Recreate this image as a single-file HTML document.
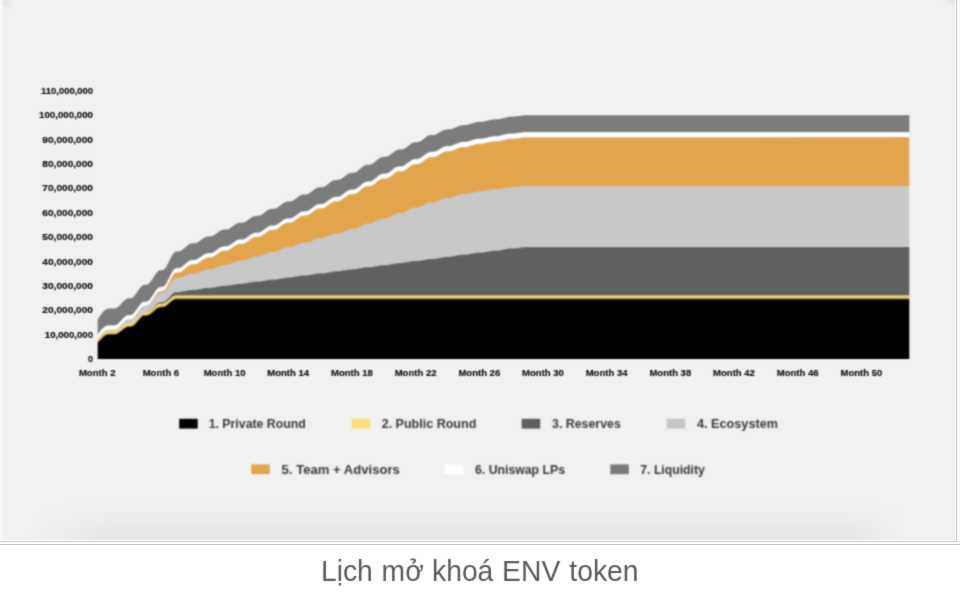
<!DOCTYPE html>
<html><head><meta charset="utf-8">
<style>
html,body{margin:0;padding:0;background:#fff;}
body{width:960px;height:597px;overflow:hidden;position:relative;font-family:"Liberation Sans",sans-serif;}
#panel{position:absolute;left:1.5px;top:0;width:953.6px;height:539.5px;background:#f1f1f1;overflow:hidden;}
#shade{position:absolute;left:0;top:500px;width:954px;height:40px;
 background:linear-gradient(to bottom, rgba(0,0,0,0) 0%, rgba(0,0,0,0.015) 40%, rgba(0,0,0,0.04) 80%, rgba(0,0,0,0.048) 100%);
 -webkit-mask-image:linear-gradient(to right, transparent 25px, #000 110px, #000 845px, transparent 905px);
 mask-image:linear-gradient(to right, transparent 25px, #000 110px, #000 845px, transparent 905px);}
#c1{position:absolute;left:0;top:0;width:16px;height:14px;background:radial-gradient(ellipse 8px 7px at 4px 3px, rgba(0,0,0,0.05), rgba(0,0,0,0));}
#c2{position:absolute;left:936px;top:0;width:18px;height:14px;background:radial-gradient(ellipse 9px 7px at 14px 1px, rgba(0,0,0,0.05), rgba(0,0,0,0));}
#lstrip{position:absolute;left:0;top:0;width:1.5px;height:540px;background:#f8f8f8;}
#rline{position:absolute;left:956.2px;top:0;width:1.1px;height:541.8px;background:#c6c6c6;}
#bline1{position:absolute;left:0;top:540.7px;width:957.3px;height:1.1px;background:#c9c9c9;}
#bline2{position:absolute;left:0;top:543.8px;width:960px;height:1.2px;background:#c6c6c6;}
#cap span{position:absolute;top:0;white-space:nowrap;}
#cap{position:absolute;left:0;width:960px;height:40px;top:555px;filter:url(#bc);font-size:28.3px;color:#5b5b5b;line-height:32px;
 transform:scaleY(1.05);transform-origin:0 27px;}
svg{position:absolute;left:0;top:0;}
.ax{font-family:"Liberation Sans",sans-serif;font-weight:bold;font-size:9.4px;fill:#1a1a1a;stroke:#1a1a1a;stroke-width:0.22px;}
.lg{font-family:"Liberation Sans",sans-serif;font-weight:bold;font-size:12.8px;fill:#383838;}
</style></head><body>
<div id="panel"><div id="shade"></div><div id="c1"></div><div id="c2"></div></div><div id="lstrip"></div>
<div id="rline"></div><div id="bline1"></div><div id="bline2"></div>
<svg width="960" height="540" viewBox="0 0 960 540">
<defs>
<filter id="bl" x="-5%" y="-5%" width="110%" height="110%"><feConvolveMatrix order="5" kernelMatrix="0.00023 0.00332 0.00809 0.00332 0.00023 0.00332 0.04785 0.11640 0.04785 0.00332 0.00809 0.11640 0.28313 0.11640 0.00809 0.00332 0.04785 0.11640 0.04785 0.00332 0.00023 0.00332 0.00809 0.00332 0.00023" edgeMode="none" preserveAlpha="false"/></filter>
<filter id="bg" x="-5%" y="-5%" width="110%" height="110%"><feConvolveMatrix order="5" kernelMatrix="0.00048 0.00501 0.01095 0.00501 0.00048 0.00501 0.05222 0.11405 0.05222 0.00501 0.01095 0.11405 0.24912 0.11405 0.01095 0.00501 0.05222 0.11405 0.05222 0.00501 0.00048 0.00501 0.01095 0.00501 0.00048" edgeMode="none" preserveAlpha="false"/></filter>
<filter id="bc" x="-5%" y="-5%" width="110%" height="110%"><feConvolveMatrix order="5" kernelMatrix="0.00000 0.00003 0.00021 0.00003 0.00000 0.00003 0.01133 0.08373 0.01133 0.00003 0.00021 0.08373 0.61869 0.08373 0.00021 0.00003 0.01133 0.08373 0.01133 0.00003 0.00000 0.00003 0.00021 0.00003 0.00000" edgeMode="none" preserveAlpha="false"/></filter>
<filter id="bt" x="-5%" y="-5%" width="110%" height="110%"><feConvolveMatrix order="5" kernelMatrix="0.00003 0.00101 0.00331 0.00101 0.00003 0.00101 0.03529 0.11525 0.03529 0.00101 0.00331 0.11525 0.37636 0.11525 0.00331 0.00101 0.03529 0.11525 0.03529 0.00101 0.00003 0.00101 0.00331 0.00101 0.00003" edgeMode="none" preserveAlpha="false"/></filter>
</defs>
<g filter="url(#bl)">
<path d="M97.7 319.50 100.2 315.70 101.7 313.62 102.7 312.37 103.7 311.26 104.7 310.32 105.7 309.56 106.7 308.99 107.7 308.64 108.7 308.50 114.7 308.48 115.2 308.42 116.2 308.11 117.2 307.57 118.2 306.83 119.2 305.93 123.7 301.10 124.7 300.16 125.7 299.38 126.7 298.79 127.7 298.42 128.2 298.32 130.7 298.26 131.2 298.16 131.7 297.99 132.2 297.73 132.7 297.40 133.2 297.00 133.7 296.53 134.7 295.42 135.7 294.13 139.2 289.07 140.2 287.76 141.2 286.63 141.7 286.16 142.2 285.74 142.7 285.40 143.2 285.12 143.7 284.93 144.2 284.81 146.7 284.74 147.2 284.62 147.7 284.42 148.2 284.13 148.7 283.76 149.2 283.31 149.7 282.80 150.7 281.59 151.7 280.18 155.2 274.73 156.2 273.33 157.2 272.13 157.7 271.63 158.2 271.19 158.7 270.83 159.2 270.55 159.7 270.36 160.2 270.25 162.2 270.22 162.7 270.16 163.2 269.98 163.7 269.70 164.2 269.31 164.7 268.82 165.2 268.23 165.7 267.55 166.2 266.80 166.7 265.97 167.7 264.13 170.7 258.07 171.7 256.19 172.2 255.32 172.7 254.52 173.2 253.80 173.7 253.16 174.2 252.61 174.7 252.17 175.2 251.82 175.7 251.59 176.2 251.46 178.7 251.40 179.7 251.19 180.7 250.79 181.7 250.23 183.2 249.14 187.2 245.66 188.7 244.55 189.7 243.97 190.7 243.55 191.7 243.31 194.7 243.22 195.7 243.03 196.7 242.69 198.2 241.92 203.7 238.04 205.2 237.20 206.2 236.79 207.2 236.52 208.2 236.42 210.2 236.41 211.2 236.29 212.2 236.00 213.2 235.58 214.7 234.71 219.2 231.47 220.7 230.57 221.7 230.10 222.7 229.77 223.7 229.60 226.2 229.56 227.2 229.43 228.2 229.13 229.2 228.69 230.7 227.82 235.2 224.58 236.7 223.68 237.7 223.22 238.7 222.91 239.7 222.75 242.2 222.71 243.2 222.56 244.2 222.26 245.2 221.81 246.7 220.92 251.2 217.68 252.7 216.80 253.7 216.35 254.7 216.05 255.7 215.90 258.2 215.86 259.2 215.69 260.2 215.36 261.2 214.88 262.7 213.94 267.2 210.56 268.7 209.65 269.7 209.20 270.7 208.89 271.7 208.75 274.2 208.71 275.2 208.53 276.2 208.18 277.2 207.69 278.7 206.74 283.2 203.36 284.7 202.46 285.7 202.02 286.7 201.73 287.7 201.60 290.2 201.56 291.2 201.36 292.2 201.01 293.2 200.51 294.7 199.54 298.7 196.51 300.2 195.55 301.2 195.05 302.2 194.69 303.2 194.49 306.2 194.41 307.2 194.20 308.2 193.83 309.2 193.32 310.7 192.34 314.7 189.31 316.2 188.36 317.2 187.87 318.2 187.52 319.2 187.34 321.7 187.30 322.7 187.16 323.7 186.85 324.7 186.39 326.2 185.46 330.7 182.02 332.2 181.06 333.2 180.57 334.2 180.24 335.2 180.06 337.7 180.03 338.7 179.87 339.7 179.55 340.7 179.07 342.2 178.13 346.7 174.69 348.2 173.75 349.2 173.27 350.2 172.95 351.2 172.79 353.7 172.75 354.7 172.56 355.7 172.19 356.7 171.65 358.2 170.60 362.7 166.79 363.7 166.07 364.7 165.48 365.7 165.05 366.7 164.80 369.7 164.70 370.7 164.50 371.7 164.12 372.7 163.59 374.2 162.55 378.7 158.85 379.7 158.16 380.7 157.60 381.7 157.19 382.7 156.96 385.7 156.86 386.7 156.67 387.7 156.30 388.7 155.79 390.2 154.81 394.2 151.70 395.7 150.71 396.7 150.20 397.7 149.83 398.7 149.62 401.7 149.53 402.7 149.32 403.7 148.95 404.7 148.43 406.2 147.43 410.2 144.32 411.7 143.34 412.7 142.84 413.7 142.48 414.7 142.29 417.2 142.25 418.2 142.11 419.2 141.81 420.2 141.36 421.7 140.44 426.2 137.04 427.7 136.09 428.7 135.61 429.7 135.27 430.7 135.10 433.2 135.06 434.2 134.94 435.2 134.69 436.7 134.10 442.7 130.62 444.2 129.94 445.2 129.63 446.2 129.43 449.7 129.32 451.2 129.07 453.2 128.44 458.7 126.05 460.7 125.43 462.2 125.19 465.7 125.11 467.7 124.81 475.2 122.44 477.2 122.04 482.2 121.84 485.2 121.31 491.2 119.74 493.7 119.38 498.2 119.25 501.2 118.71 507.2 117.14 509.7 116.79 515.2 116.62 524.7 115.37 909.3 115.30 L909.3 133.80 524.7 133.87 515.2 135.12 509.7 135.29 507.2 135.64 501.2 137.21 498.2 137.75 493.7 137.88 491.2 138.24 485.2 139.81 482.2 140.34 477.2 140.54 475.2 140.94 467.7 143.31 465.7 143.61 462.2 143.69 460.7 143.93 458.7 144.55 453.2 146.94 451.2 147.57 449.7 147.82 446.2 147.93 445.2 148.13 444.2 148.44 442.7 149.12 436.7 152.60 435.2 153.19 434.2 153.44 433.2 153.56 430.7 153.60 429.7 153.77 428.7 154.11 427.7 154.59 426.2 155.54 421.7 158.94 420.2 159.86 419.2 160.31 418.2 160.61 417.2 160.75 414.7 160.79 413.7 160.98 412.7 161.34 411.7 161.84 410.2 162.82 406.2 165.93 404.7 166.93 403.7 167.45 402.7 167.82 401.7 168.03 398.7 168.12 397.7 168.33 396.7 168.70 395.7 169.21 394.2 170.20 390.2 173.31 388.7 174.29 387.7 174.80 386.7 175.17 385.7 175.36 382.7 175.46 381.7 175.69 380.7 176.10 379.7 176.66 378.7 177.35 374.2 181.05 372.7 182.09 371.7 182.62 370.7 183.00 369.7 183.20 366.7 183.30 365.7 183.55 364.7 183.98 363.7 184.57 362.7 185.29 358.2 189.10 356.7 190.15 355.7 190.69 354.7 191.06 353.7 191.25 351.2 191.29 350.2 191.45 349.2 191.77 348.2 192.25 346.7 193.19 342.2 196.63 340.7 197.57 339.7 198.05 338.7 198.37 337.7 198.53 335.2 198.56 334.2 198.74 333.2 199.07 332.2 199.56 330.7 200.52 326.2 203.96 324.7 204.89 323.7 205.35 322.7 205.66 321.7 205.80 319.2 205.84 318.2 206.02 317.2 206.37 316.2 206.86 314.7 207.81 310.7 210.84 309.2 211.82 308.2 212.33 307.2 212.70 306.2 212.91 303.2 212.99 302.2 213.19 301.2 213.55 300.2 214.05 298.7 215.01 294.7 218.04 293.2 219.01 292.2 219.51 291.2 219.86 290.2 220.06 287.7 220.10 286.7 220.23 285.7 220.52 284.7 220.96 283.2 221.86 278.7 225.24 277.2 226.19 276.2 226.68 275.2 227.03 274.2 227.21 271.7 227.25 270.7 227.39 269.7 227.70 268.7 228.15 267.2 229.06 262.7 232.44 261.2 233.38 260.2 233.86 259.2 234.19 258.2 234.36 255.7 234.40 254.7 234.55 253.7 234.85 252.7 235.30 251.2 236.18 246.7 239.42 245.2 240.31 244.2 240.76 243.2 241.06 242.2 241.21 239.7 241.25 238.7 241.41 237.7 241.72 236.7 242.18 235.2 243.08 230.7 246.32 229.2 247.19 228.2 247.63 227.2 247.93 226.2 248.06 223.7 248.10 222.7 248.27 221.7 248.60 220.7 249.07 219.2 249.97 214.7 253.21 213.2 254.08 212.2 254.50 211.2 254.79 210.2 254.91 208.2 254.92 207.2 255.02 206.2 255.29 205.2 255.70 203.7 256.54 198.2 260.42 196.7 261.19 195.7 261.53 194.7 261.72 191.7 261.81 190.7 262.05 189.7 262.47 188.7 263.05 187.2 264.16 183.2 267.64 181.7 268.73 180.7 269.29 179.7 269.69 178.7 269.90 176.2 269.96 175.7 270.09 175.2 270.32 174.7 270.67 174.2 271.11 173.7 271.66 173.2 272.30 172.7 273.02 172.2 273.82 171.7 274.69 170.7 276.57 167.7 282.63 166.7 284.47 166.2 285.30 165.7 286.05 165.2 286.73 164.7 287.32 164.2 287.81 163.7 288.20 163.2 288.48 162.7 288.66 162.2 288.72 160.2 288.75 159.7 288.86 159.2 289.05 158.7 289.33 158.2 289.69 157.7 290.13 157.2 290.63 156.2 291.83 155.2 293.23 151.7 298.68 150.7 300.09 149.7 301.30 149.2 301.81 148.7 302.26 148.2 302.63 147.7 302.92 147.2 303.12 146.7 303.24 144.2 303.31 143.7 303.43 143.2 303.62 142.7 303.90 142.2 304.24 141.7 304.66 141.2 305.13 140.2 306.26 139.2 307.57 135.7 312.63 134.7 313.92 133.7 315.03 133.2 315.50 132.7 315.90 132.2 316.23 131.7 316.49 131.2 316.66 130.7 316.76 128.2 316.82 127.7 316.92 126.7 317.29 125.7 317.88 124.7 318.66 123.7 319.60 119.2 324.43 118.2 325.33 117.2 326.07 116.2 326.61 115.2 326.92 114.7 326.98 108.2 327.03 107.2 327.24 106.2 327.62 105.2 328.17 104.2 328.88 103.2 329.73 102.2 330.70 100.7 332.36 97.7 336.10 Z" fill="#7b7b7b"/>
<path d="M97.7 334.50 100.7 330.76 102.2 329.10 103.2 328.13 104.2 327.28 105.2 326.57 106.2 326.02 107.2 325.64 108.2 325.43 114.7 325.38 115.2 325.32 116.2 325.01 117.2 324.47 118.2 323.73 119.2 322.83 123.7 318.00 124.7 317.06 125.7 316.28 126.7 315.69 127.7 315.32 128.2 315.22 130.7 315.16 131.2 315.06 131.7 314.89 132.2 314.63 132.7 314.30 133.2 313.90 133.7 313.43 134.7 312.32 135.7 311.03 139.2 305.97 140.2 304.66 141.2 303.53 141.7 303.06 142.2 302.64 142.7 302.30 143.2 302.02 143.7 301.83 144.2 301.71 146.7 301.64 147.2 301.52 147.7 301.32 148.2 301.03 148.7 300.66 149.2 300.21 149.7 299.70 150.7 298.49 151.7 297.08 155.2 291.63 156.2 290.23 157.2 289.03 157.7 288.53 158.2 288.09 158.7 287.73 159.2 287.45 159.7 287.26 160.2 287.15 162.2 287.12 162.7 287.06 163.2 286.88 163.7 286.60 164.2 286.21 164.7 285.72 165.2 285.13 165.7 284.45 166.2 283.70 166.7 282.87 167.7 281.03 170.7 274.97 171.7 273.09 172.2 272.22 172.7 271.42 173.2 270.70 173.7 270.06 174.2 269.51 174.7 269.07 175.2 268.72 175.7 268.49 176.2 268.36 178.7 268.30 179.7 268.09 180.7 267.69 181.7 267.13 183.2 266.04 187.2 262.56 188.7 261.45 189.7 260.87 190.7 260.45 191.7 260.21 194.7 260.12 195.7 259.93 196.7 259.59 198.2 258.82 203.7 254.94 205.2 254.10 206.2 253.69 207.2 253.42 208.2 253.32 210.2 253.31 211.2 253.19 212.2 252.90 213.2 252.48 214.7 251.61 219.2 248.37 220.7 247.47 221.7 247.00 222.7 246.67 223.7 246.50 226.2 246.46 227.2 246.33 228.2 246.03 229.2 245.59 230.7 244.72 235.2 241.48 236.7 240.58 237.7 240.12 238.7 239.81 239.7 239.65 242.2 239.61 243.2 239.46 244.2 239.16 245.2 238.71 246.7 237.82 251.2 234.58 252.7 233.70 253.7 233.25 254.7 232.95 255.7 232.80 258.2 232.76 259.2 232.59 260.2 232.26 261.2 231.78 262.7 230.84 267.2 227.46 268.7 226.55 269.7 226.10 270.7 225.79 271.7 225.65 274.2 225.61 275.2 225.43 276.2 225.08 277.2 224.59 278.7 223.64 283.2 220.26 284.7 219.36 285.7 218.92 286.7 218.63 287.7 218.50 290.2 218.46 291.2 218.26 292.2 217.91 293.2 217.41 294.7 216.44 298.7 213.41 300.2 212.45 301.2 211.95 302.2 211.59 303.2 211.39 306.2 211.31 307.2 211.10 308.2 210.73 309.2 210.22 310.7 209.24 314.7 206.21 316.2 205.26 317.2 204.77 318.2 204.42 319.2 204.24 321.7 204.20 322.7 204.06 323.7 203.75 324.7 203.29 326.2 202.36 330.7 198.92 332.2 197.96 333.2 197.47 334.2 197.14 335.2 196.96 337.7 196.93 338.7 196.77 339.7 196.45 340.7 195.97 342.2 195.03 346.7 191.59 348.2 190.65 349.2 190.17 350.2 189.85 351.2 189.69 353.7 189.65 354.7 189.46 355.7 189.09 356.7 188.55 358.2 187.50 362.7 183.69 363.7 182.97 364.7 182.38 365.7 181.95 366.7 181.70 369.7 181.60 370.7 181.40 371.7 181.02 372.7 180.49 374.2 179.45 378.7 175.75 379.7 175.06 380.7 174.50 381.7 174.09 382.7 173.86 385.7 173.76 386.7 173.57 387.7 173.20 388.7 172.69 390.2 171.71 394.2 168.60 395.7 167.61 396.7 167.10 397.7 166.73 398.7 166.52 401.7 166.43 402.7 166.22 403.7 165.85 404.7 165.33 406.2 164.33 410.2 161.22 411.7 160.24 412.7 159.74 413.7 159.38 414.7 159.19 417.2 159.15 418.2 159.01 419.2 158.71 420.2 158.26 421.7 157.34 426.2 153.94 427.7 152.99 428.7 152.51 429.7 152.17 430.7 152.00 433.2 151.96 434.2 151.84 435.2 151.59 436.7 151.00 442.7 147.52 444.2 146.84 445.2 146.53 446.2 146.33 449.7 146.22 451.2 145.97 453.2 145.34 458.7 142.95 460.7 142.33 462.2 142.09 465.7 142.01 467.7 141.71 475.2 139.34 477.2 138.94 482.2 138.74 485.2 138.21 491.2 136.64 493.7 136.28 498.2 136.15 501.2 135.61 507.2 134.04 509.7 133.69 515.2 133.52 524.7 132.27 909.3 132.20 L909.3 138.70 524.7 138.77 515.2 140.02 509.7 140.19 507.2 140.54 501.2 142.11 498.2 142.65 493.7 142.78 491.2 143.14 485.2 144.71 482.2 145.24 477.2 145.44 475.2 145.84 467.7 148.21 465.7 148.51 462.2 148.59 460.7 148.83 458.7 149.45 453.2 151.84 451.2 152.47 449.7 152.72 446.2 152.83 445.2 153.03 444.2 153.34 442.7 154.02 436.7 157.50 435.2 158.09 434.2 158.34 433.2 158.46 430.7 158.50 429.7 158.67 428.7 159.01 427.7 159.49 426.2 160.44 421.7 163.84 420.2 164.76 419.2 165.21 418.2 165.51 417.2 165.65 414.7 165.69 413.7 165.88 412.7 166.23 411.7 166.72 410.2 167.68 406.2 170.74 404.7 171.71 403.7 172.22 402.7 172.59 401.7 172.80 398.7 172.89 397.7 173.09 396.7 173.45 395.7 173.96 394.2 174.93 390.2 177.98 388.7 178.95 387.7 179.45 386.7 179.80 385.7 180.00 382.7 180.09 381.7 180.32 380.7 180.72 379.7 181.27 378.7 181.95 374.2 185.59 372.7 186.61 371.7 187.13 370.7 187.50 369.7 187.70 366.7 187.79 365.7 188.05 364.7 188.47 363.7 189.05 362.7 189.76 358.2 193.50 356.7 194.54 355.7 195.06 354.7 195.43 353.7 195.61 351.2 195.65 350.2 195.81 349.2 196.13 348.2 196.60 346.7 197.52 342.2 200.90 340.7 201.82 339.7 202.29 338.7 202.61 337.7 202.76 335.2 202.79 334.2 202.97 333.2 203.30 332.2 203.78 330.7 204.71 326.2 208.09 324.7 209.00 323.7 209.46 322.7 209.76 321.7 209.90 319.2 209.94 318.2 210.12 317.2 210.47 316.2 210.96 314.7 211.91 310.7 214.94 309.2 215.91 308.2 216.42 307.2 216.79 306.2 217.00 303.2 217.08 302.2 217.28 301.2 217.64 300.2 218.14 298.7 219.10 294.7 222.13 293.2 223.09 292.2 223.59 291.2 223.95 290.2 224.15 287.7 224.19 286.7 224.32 285.7 224.61 284.7 225.05 283.2 225.95 278.7 229.32 277.2 230.27 276.2 230.76 275.2 231.11 274.2 231.29 271.7 231.33 270.7 231.47 269.7 231.77 268.7 232.23 267.2 233.14 262.7 236.52 261.2 237.45 260.2 237.93 259.2 238.26 258.2 238.44 255.7 238.47 254.7 238.62 253.7 238.92 252.7 239.37 251.2 240.25 246.7 243.49 245.2 244.37 244.2 244.82 243.2 245.13 242.2 245.28 239.7 245.31 238.7 245.47 237.7 245.79 236.7 246.24 235.2 247.14 230.7 250.38 229.2 251.25 228.2 251.69 227.2 251.98 226.2 252.12 223.7 252.16 222.7 252.33 221.7 252.66 220.7 253.12 219.2 254.03 214.7 257.27 213.2 258.13 212.2 258.55 211.2 258.84 210.2 258.96 208.2 258.97 207.2 259.07 206.2 259.34 205.2 259.75 203.7 260.59 198.2 264.46 196.7 265.23 195.7 265.57 194.7 265.77 191.7 265.86 190.7 266.09 189.7 266.51 188.7 267.09 187.2 268.20 183.2 271.67 181.7 272.77 180.7 273.33 179.7 273.73 178.7 273.94 176.2 274.00 175.7 274.12 175.2 274.36 174.7 274.70 174.2 275.15 173.7 275.70 173.2 276.33 172.7 277.06 172.2 277.86 171.7 278.72 170.7 280.61 167.7 286.67 166.7 288.50 166.2 289.33 165.7 290.08 165.2 290.76 164.7 291.35 164.2 291.84 163.7 292.23 163.2 292.51 162.7 292.69 162.2 292.75 160.2 292.77 159.7 292.89 159.2 293.08 158.7 293.36 158.2 293.72 157.7 294.16 157.2 294.66 156.2 295.86 155.2 297.26 151.7 302.70 150.7 304.11 149.7 305.32 149.2 305.84 148.7 306.28 148.2 306.65 147.7 306.94 147.2 307.14 146.7 307.27 144.2 307.33 143.7 307.45 143.2 307.64 142.7 307.92 142.2 308.26 141.7 308.68 141.2 309.16 140.2 310.28 139.2 311.59 135.2 317.31 134.2 318.52 133.2 319.51 132.7 319.91 132.2 320.24 131.7 320.50 131.2 320.68 130.7 320.78 128.2 320.84 127.7 320.93 126.7 321.30 125.7 321.89 124.7 322.68 123.7 323.61 119.2 328.44 118.2 329.34 117.2 330.08 116.2 330.61 115.2 330.92 114.7 330.99 108.2 331.04 107.2 331.24 106.2 331.62 105.2 332.17 104.2 332.88 103.2 333.73 102.2 334.71 100.7 336.37 97.7 340.10 Z" fill="#ffffff"/>
<path d="M146.7 305.67 147.2 305.54 147.7 305.34 148.2 305.05 148.7 304.68 149.2 304.24 149.7 303.72 150.7 302.51 151.7 301.10 155.2 295.66 156.2 294.26 157.2 293.06 157.7 292.56 158.2 292.12 158.7 291.76 159.2 291.48 159.7 291.29 160.2 291.17 162.2 291.15 162.7 291.09 163.2 290.91 163.7 290.63 164.2 290.24 164.7 289.75 165.2 289.16 165.7 288.48 166.2 287.73 166.7 286.90 167.7 285.07 170.7 279.01 171.7 277.12 172.2 276.26 172.7 275.46 173.2 274.73 173.7 274.10 174.2 273.55 174.7 273.10 175.2 272.76 175.7 272.52 176.2 272.40 178.7 272.34 179.7 272.13 180.7 271.73 181.7 271.17 183.2 270.07 187.2 266.60 188.7 265.49 189.7 264.91 190.7 264.49 191.7 264.26 194.7 264.17 195.7 263.97 196.7 263.63 198.2 262.86 203.7 258.99 205.2 258.15 206.2 257.74 207.2 257.47 208.2 257.37 210.2 257.36 211.2 257.24 212.2 256.95 213.2 256.53 214.7 255.67 219.2 252.43 220.7 251.52 221.7 251.06 222.7 250.73 223.7 250.56 226.2 250.52 227.2 250.38 228.2 250.09 229.2 249.65 230.7 248.78 235.2 245.54 236.7 244.64 237.7 244.19 238.7 243.87 239.7 243.71 242.2 243.68 243.2 243.53 244.2 243.22 245.2 242.77 246.7 241.89 251.2 238.65 252.7 237.77 253.7 237.32 254.7 237.02 255.7 236.87 258.2 236.84 259.2 236.66 260.2 236.33 261.2 235.85 262.7 234.92 267.2 231.54 268.7 230.63 269.7 230.17 270.7 229.87 271.7 229.73 274.2 229.69 275.2 229.51 276.2 229.16 277.2 228.67 278.7 227.72 283.2 224.35 284.7 223.45 285.7 223.01 286.7 222.72 287.7 222.59 290.2 222.55 291.2 222.35 292.2 221.99 293.2 221.49 294.7 220.53 298.7 217.50 300.2 216.54 301.2 216.04 302.2 215.68 303.2 215.48 306.2 215.40 307.2 215.19 308.2 214.82 309.2 214.31 310.7 213.34 314.7 210.31 316.2 209.36 317.2 208.87 318.2 208.52 319.2 208.34 321.7 208.30 322.7 208.16 323.7 207.86 324.7 207.40 326.2 206.49 330.7 203.11 332.2 202.18 333.2 201.70 334.2 201.37 335.2 201.19 337.7 201.16 338.7 201.01 339.7 200.69 340.7 200.22 342.2 199.30 346.7 195.92 348.2 195.00 349.2 194.53 350.2 194.21 351.2 194.05 353.7 194.01 354.7 193.83 355.7 193.46 356.7 192.94 358.2 191.90 362.7 188.16 363.7 187.45 364.7 186.87 365.7 186.45 366.7 186.19 369.7 186.10 370.7 185.90 371.7 185.53 372.7 185.01 374.2 183.99 378.7 180.35 379.7 179.67 380.7 179.12 381.7 178.72 382.7 178.49 385.7 178.40 386.7 178.20 387.7 177.85 388.7 177.35 390.2 176.38 394.2 173.33 395.7 172.36 396.7 171.85 397.7 171.49 398.7 171.29 401.7 171.20 402.7 170.99 403.7 170.62 404.7 170.11 406.2 169.14 410.2 166.08 411.7 165.12 412.7 164.63 413.7 164.28 414.7 164.09 417.2 164.05 418.2 163.91 419.2 163.61 420.2 163.16 421.7 162.24 426.2 158.84 427.7 157.89 428.7 157.41 429.7 157.07 430.7 156.90 433.2 156.86 434.2 156.74 435.2 156.49 436.7 155.90 442.7 152.42 444.2 151.74 445.2 151.43 446.2 151.23 449.7 151.12 451.2 150.87 453.2 150.24 458.7 147.85 460.7 147.23 462.2 146.99 465.7 146.91 467.7 146.61 475.2 144.24 477.2 143.84 482.2 143.64 485.2 143.11 491.2 141.54 493.7 141.18 498.2 141.05 501.2 140.51 507.2 138.94 509.7 138.59 515.2 138.42 524.7 137.17 909.3 137.10 L909.3 187.50 524.7 187.57 515.7 188.77 508.2 189.12 498.7 190.90 492.2 191.20 482.7 192.99 477.7 193.15 475.2 193.54 469.2 195.20 466.2 195.74 462.7 195.83 461.2 195.97 459.2 196.45 451.7 199.15 449.7 199.48 445.7 199.64 444.2 199.98 442.7 200.52 437.2 203.08 435.2 203.75 433.7 204.01 430.7 204.07 429.7 204.20 428.2 204.62 426.7 205.26 422.2 207.78 420.2 208.72 418.7 209.19 417.7 209.35 414.7 209.42 413.7 209.56 412.2 209.99 410.7 210.65 406.2 213.17 404.2 214.10 402.7 214.55 401.7 214.71 398.7 214.77 397.7 214.92 396.2 215.37 394.7 216.03 390.2 218.56 388.2 219.48 386.7 219.91 385.7 220.06 382.7 220.12 381.7 220.28 380.2 220.74 378.7 221.42 374.2 223.95 372.2 224.85 370.7 225.28 369.7 225.41 367.2 225.44 366.2 225.55 364.7 225.93 363.2 226.56 357.2 229.82 355.7 230.39 354.2 230.72 350.2 230.89 348.7 231.23 347.2 231.77 341.7 234.36 339.7 235.04 338.2 235.31 335.7 235.35 334.2 235.47 332.7 235.83 331.2 236.38 325.7 238.97 323.7 239.63 322.2 239.89 318.7 239.99 317.2 240.28 315.7 240.78 309.2 243.77 307.7 244.22 306.2 244.46 302.7 244.57 301.2 244.87 299.7 245.38 293.2 248.37 291.7 248.82 290.2 249.04 286.7 249.15 285.2 249.47 283.7 249.99 278.2 252.58 276.2 253.28 274.7 253.58 270.7 253.74 269.2 254.07 267.7 254.59 262.2 257.19 260.2 257.88 258.7 258.16 255.2 258.26 253.7 258.50 251.7 259.13 246.2 261.56 244.2 262.19 242.7 262.44 239.2 262.54 237.7 262.80 235.7 263.44 230.2 265.86 228.2 266.48 226.7 266.72 223.2 266.82 221.7 267.09 220.2 267.55 214.2 270.16 212.2 270.77 210.7 271.00 207.2 271.10 205.7 271.38 204.2 271.85 198.7 274.27 196.7 274.94 195.2 275.23 191.2 275.38 189.7 275.67 188.2 276.16 182.2 278.77 180.2 279.35 178.7 279.56 176.2 279.59 175.7 279.69 175.2 279.88 174.7 280.15 174.2 280.51 173.7 280.95 173.2 281.46 172.7 282.03 171.7 283.36 170.7 284.86 167.7 289.70 166.7 291.16 165.7 292.42 165.2 292.96 164.7 293.43 164.2 293.82 163.7 294.14 163.2 294.36 162.7 294.50 162.2 294.55 160.2 294.57 159.7 294.67 159.2 294.84 158.7 295.09 158.2 295.40 157.7 295.78 157.2 296.23 156.2 297.27 155.2 298.50 151.2 303.91 150.2 305.06 149.2 306.02 148.7 306.41 148.2 306.73 147.7 306.98 147.2 307.16 146.7 307.27 Z" fill="#e3a54b"/>
<path d="M97.7 338.50 100.7 334.77 102.2 333.11 103.2 332.13 104.2 331.28 105.2 330.57 106.2 330.02 107.2 329.64 108.2 329.44 114.7 329.39 115.2 329.32 116.2 329.01 117.2 328.48 118.2 327.74 119.2 326.84 123.7 322.01 124.7 321.08 125.7 320.29 126.7 319.70 127.7 319.33 128.2 319.24 130.7 319.18 131.2 319.08 131.7 318.90 132.2 318.64 132.7 318.31 133.2 317.91 134.2 316.92 135.2 315.71 139.2 309.99 140.2 308.68 141.2 307.56 141.7 307.08 142.2 306.66 142.7 306.32 143.2 306.04 143.7 305.85 144.2 305.73 146.7 305.67 147.2 305.56 147.7 305.38 148.2 305.13 148.7 304.81 149.2 304.42 150.2 303.46 151.2 302.31 155.2 296.90 156.2 295.67 157.2 294.63 157.7 294.18 158.2 293.80 158.7 293.49 159.2 293.24 159.7 293.07 160.2 292.97 162.2 292.95 162.7 292.90 163.2 292.76 163.7 292.54 164.2 292.22 164.7 291.83 165.2 291.36 165.7 290.82 166.7 289.56 167.7 288.10 170.7 283.26 171.7 281.76 172.7 280.43 173.2 279.86 173.7 279.35 174.2 278.91 174.7 278.55 175.2 278.28 175.7 278.09 176.2 277.99 178.7 277.96 180.2 277.75 182.2 277.17 188.2 274.56 189.7 274.07 191.2 273.78 195.2 273.63 196.7 273.34 198.7 272.67 204.2 270.25 205.7 269.78 207.2 269.50 210.7 269.40 212.2 269.17 214.2 268.56 220.2 265.95 221.7 265.49 223.2 265.22 226.7 265.12 228.2 264.88 230.2 264.26 235.7 261.84 237.7 261.20 239.2 260.94 242.7 260.84 244.2 260.59 246.2 259.96 251.7 257.53 253.7 256.90 255.2 256.66 258.7 256.56 260.2 256.28 262.2 255.59 267.7 252.99 269.2 252.47 270.7 252.14 274.7 251.98 276.2 251.68 278.2 250.98 283.7 248.39 285.2 247.87 286.7 247.55 290.2 247.44 291.7 247.22 293.2 246.77 299.7 243.78 301.2 243.27 302.7 242.97 306.2 242.86 307.7 242.62 309.2 242.17 315.7 239.18 317.2 238.68 318.7 238.39 322.2 238.29 323.7 238.03 325.7 237.37 331.2 234.78 332.7 234.23 334.2 233.87 335.7 233.75 338.2 233.71 339.7 233.44 341.7 232.76 347.2 230.17 348.7 229.63 350.2 229.29 354.2 229.12 355.7 228.79 357.2 228.22 363.2 224.96 364.7 224.33 366.2 223.95 367.2 223.84 369.7 223.81 370.7 223.68 372.2 223.25 374.2 222.35 378.7 219.82 380.2 219.14 381.7 218.68 382.7 218.52 385.7 218.46 386.7 218.31 388.2 217.88 390.2 216.96 394.7 214.43 396.2 213.77 397.7 213.32 398.7 213.17 401.7 213.11 402.7 212.95 404.2 212.50 406.2 211.57 410.7 209.05 412.2 208.39 413.7 207.96 414.7 207.82 417.7 207.75 418.7 207.59 420.2 207.12 422.2 206.18 426.7 203.66 428.2 203.02 429.7 202.60 430.7 202.47 433.7 202.41 435.2 202.15 437.2 201.48 442.7 198.92 444.2 198.38 445.7 198.04 449.7 197.88 451.7 197.55 459.2 194.85 461.2 194.37 462.7 194.23 466.2 194.14 469.2 193.60 475.2 191.94 477.7 191.55 482.7 191.39 492.2 189.60 498.7 189.30 508.2 187.52 515.7 187.17 524.7 185.97 909.3 185.90 L909.3 248.60 524.7 248.67 515.7 249.87 508.2 250.22 498.7 252.00 492.2 252.30 482.7 254.09 476.2 254.38 467.2 256.11 460.2 256.47 451.2 258.19 444.2 258.55 435.2 260.28 428.7 260.57 419.2 262.36 412.7 262.65 403.2 264.44 396.7 264.73 387.2 266.52 380.7 266.82 371.7 268.55 364.7 268.90 355.7 270.63 348.7 270.98 339.7 272.71 333.2 273.00 323.7 274.79 317.2 275.08 307.7 276.87 301.2 277.17 291.7 278.95 285.2 279.25 275.7 281.03 269.2 281.33 259.7 283.11 253.7 283.35 243.7 285.20 240.2 285.29 237.2 285.50 228.2 287.22 221.7 287.52 212.2 289.31 205.7 289.60 196.2 291.39 189.7 291.68 180.2 293.47 175.7 293.66 175.2 293.79 174.2 294.22 173.2 294.87 172.2 295.70 171.2 296.68 167.7 300.52 166.2 301.98 165.2 302.76 164.2 303.35 163.2 303.72 162.7 303.82 160.2 303.87 159.2 304.07 158.2 304.50 157.2 305.13 156.2 305.93 155.2 306.87 152.7 309.49 150.7 311.46 149.7 312.27 148.7 312.92 147.7 313.36 146.7 313.58 144.2 313.63 143.7 313.72 143.2 313.89 142.7 314.11 142.2 314.40 141.2 315.14 140.2 316.08 139.2 317.16 135.2 321.91 134.2 322.91 133.2 323.73 132.2 324.34 131.7 324.55 131.2 324.70 130.7 324.78 128.2 324.83 127.2 325.02 126.2 325.38 125.2 325.91 123.7 326.92 119.2 330.57 117.7 331.54 116.7 332.03 115.7 332.35 114.7 332.49 108.7 332.50 107.7 332.61 106.7 332.87 105.7 333.29 104.7 333.86 103.7 334.56 102.2 335.84 100.7 337.33 97.7 340.70 Z" fill="#c8c8c8"/>
<path d="M146.7 311.98 147.7 311.76 148.7 311.32 149.7 310.67 150.7 309.86 152.7 307.89 155.2 305.27 156.2 304.33 157.2 303.53 158.2 302.90 159.2 302.47 160.2 302.27 162.7 302.22 163.2 302.12 164.2 301.75 165.2 301.16 166.2 300.38 167.7 298.92 171.2 295.08 172.2 294.10 173.2 293.27 174.2 292.62 175.2 292.19 175.7 292.06 180.2 291.87 189.7 290.08 196.2 289.79 205.7 288.00 212.2 287.71 221.7 285.92 228.2 285.62 237.2 283.90 240.2 283.69 243.7 283.60 253.7 281.75 259.7 281.51 269.2 279.73 275.7 279.43 285.2 277.65 291.7 277.35 301.2 275.57 307.7 275.27 317.2 273.48 323.7 273.19 333.2 271.40 339.7 271.11 348.7 269.38 355.7 269.03 364.7 267.30 371.7 266.95 380.7 265.22 387.2 264.92 396.7 263.13 403.2 262.84 412.7 261.05 419.2 260.76 428.7 258.97 435.2 258.68 444.2 256.95 451.2 256.59 460.2 254.87 467.2 254.51 476.2 252.78 482.7 252.49 492.2 250.70 498.7 250.40 508.2 248.62 515.7 248.27 524.7 247.07 909.3 247.00 L909.3 297.10 175.7 297.16 174.7 297.42 173.7 297.85 172.7 298.45 171.7 299.17 167.2 303.05 165.7 304.14 164.7 304.69 163.7 305.07 162.7 305.27 159.7 305.38 158.7 305.65 157.7 306.10 156.7 306.72 155.7 307.46 151.2 311.39 149.7 312.47 148.7 313.02 147.7 313.39 146.7 313.58 Z" fill="#606060"/>
<path d="M97.7 339.10 100.7 335.73 102.2 334.24 103.7 332.96 104.7 332.26 105.7 331.69 106.7 331.27 107.7 331.01 108.7 330.90 114.7 330.89 115.7 330.75 116.7 330.43 117.7 329.94 119.2 328.97 123.7 325.32 125.2 324.31 126.2 323.78 127.2 323.42 128.2 323.23 130.7 323.18 131.2 323.10 131.7 322.95 132.2 322.74 133.2 322.13 134.2 321.31 135.2 320.31 139.2 315.56 140.2 314.48 141.2 313.54 142.2 312.80 142.7 312.51 143.2 312.29 143.7 312.12 144.2 312.03 146.7 311.98 147.7 311.79 148.7 311.42 149.7 310.87 151.2 309.79 155.7 305.86 156.7 305.12 157.7 304.50 158.7 304.05 159.7 303.78 162.7 303.67 163.7 303.47 164.7 303.09 165.7 302.54 167.2 301.45 171.7 297.57 172.7 296.85 173.7 296.25 174.7 295.82 175.7 295.56 909.3 295.50 L909.3 300.00 175.7 300.06 174.7 300.32 173.7 300.75 172.7 301.35 171.7 302.07 167.2 305.95 165.7 307.04 164.7 307.59 163.7 307.97 162.7 308.17 159.7 308.28 158.7 308.55 157.7 309.00 156.7 309.62 155.7 310.36 151.2 314.29 149.7 315.37 148.7 315.92 147.7 316.29 146.7 316.48 144.2 316.53 143.7 316.62 143.2 316.79 142.7 317.01 142.2 317.30 141.2 318.04 140.2 318.98 139.2 320.06 135.2 324.81 134.2 325.81 133.2 326.63 132.2 327.24 131.7 327.45 131.2 327.60 130.7 327.68 128.2 327.73 127.2 327.92 126.2 328.28 125.2 328.81 123.7 329.82 119.2 333.47 117.7 334.44 116.7 334.93 115.7 335.25 114.7 335.39 108.7 335.40 107.7 335.51 106.7 335.77 105.7 336.19 104.7 336.76 103.7 337.46 102.2 338.74 100.7 340.23 97.7 343.60 Z" fill="#f2d675"/>
<path d="M97.7 342.00 100.7 338.63 102.2 337.14 103.7 335.86 104.7 335.16 105.7 334.59 106.7 334.17 107.7 333.91 108.7 333.80 114.7 333.79 115.7 333.65 116.7 333.33 117.7 332.84 119.2 331.87 123.7 328.22 125.2 327.21 126.2 326.68 127.2 326.32 128.2 326.13 130.7 326.08 131.2 326.00 131.7 325.85 132.2 325.64 133.2 325.03 134.2 324.21 135.2 323.21 139.2 318.46 140.2 317.38 141.2 316.44 142.2 315.70 142.7 315.41 143.2 315.19 143.7 315.02 144.2 314.93 146.7 314.88 147.7 314.69 148.7 314.32 149.7 313.77 151.2 312.69 155.7 308.76 156.7 308.02 157.7 307.40 158.7 306.95 159.7 306.68 162.7 306.57 163.7 306.37 164.7 305.99 165.7 305.44 167.2 304.35 171.7 300.47 172.7 299.75 173.7 299.15 174.7 298.72 175.7 298.46 909.3 298.40 L909.3 359.10 97.7 359.10 Z" fill="#000000"/>
</g>
<g class="ax" filter="url(#bt)">
<text x="93" y="362.1" text-anchor="end" textLength="5.0" lengthAdjust="spacingAndGlyphs">0</text>
<text x="93" y="337.7" text-anchor="end" textLength="48.2" lengthAdjust="spacingAndGlyphs">10,000,000</text>
<text x="93" y="313.3" text-anchor="end" textLength="50.7" lengthAdjust="spacingAndGlyphs">20,000,000</text>
<text x="93" y="288.9" text-anchor="end" textLength="50.7" lengthAdjust="spacingAndGlyphs">30,000,000</text>
<text x="93" y="264.5" text-anchor="end" textLength="50.7" lengthAdjust="spacingAndGlyphs">40,000,000</text>
<text x="93" y="240.1" text-anchor="end" textLength="50.7" lengthAdjust="spacingAndGlyphs">50,000,000</text>
<text x="93" y="215.7" text-anchor="end" textLength="50.7" lengthAdjust="spacingAndGlyphs">60,000,000</text>
<text x="93" y="191.3" text-anchor="end" textLength="50.7" lengthAdjust="spacingAndGlyphs">70,000,000</text>
<text x="93" y="166.9" text-anchor="end" textLength="50.7" lengthAdjust="spacingAndGlyphs">80,000,000</text>
<text x="93" y="142.5" text-anchor="end" textLength="50.7" lengthAdjust="spacingAndGlyphs">90,000,000</text>
<text x="93" y="118.1" text-anchor="end" textLength="53.9" lengthAdjust="spacingAndGlyphs">100,000,000</text>
<text x="93" y="93.7" text-anchor="end" textLength="51.9" lengthAdjust="spacingAndGlyphs">110,000,000</text>
<text x="97.2" y="376.4" text-anchor="middle" textLength="36.5" lengthAdjust="spacingAndGlyphs">Month 2</text>
<text x="160.9" y="376.4" text-anchor="middle" textLength="36.5" lengthAdjust="spacingAndGlyphs">Month 6</text>
<text x="224.6" y="376.4" text-anchor="middle" textLength="41.8" lengthAdjust="spacingAndGlyphs">Month 10</text>
<text x="288.2" y="376.4" text-anchor="middle" textLength="41.8" lengthAdjust="spacingAndGlyphs">Month 14</text>
<text x="351.9" y="376.4" text-anchor="middle" textLength="41.8" lengthAdjust="spacingAndGlyphs">Month 18</text>
<text x="415.6" y="376.4" text-anchor="middle" textLength="41.8" lengthAdjust="spacingAndGlyphs">Month 22</text>
<text x="479.3" y="376.4" text-anchor="middle" textLength="41.8" lengthAdjust="spacingAndGlyphs">Month 26</text>
<text x="543.0" y="376.4" text-anchor="middle" textLength="41.8" lengthAdjust="spacingAndGlyphs">Month 30</text>
<text x="606.6" y="376.4" text-anchor="middle" textLength="41.8" lengthAdjust="spacingAndGlyphs">Month 34</text>
<text x="670.3" y="376.4" text-anchor="middle" textLength="41.8" lengthAdjust="spacingAndGlyphs">Month 38</text>
<text x="734.0" y="376.4" text-anchor="middle" textLength="41.8" lengthAdjust="spacingAndGlyphs">Month 42</text>
<text x="797.7" y="376.4" text-anchor="middle" textLength="41.8" lengthAdjust="spacingAndGlyphs">Month 46</text>
<text x="861.4" y="376.4" text-anchor="middle" textLength="41.8" lengthAdjust="spacingAndGlyphs">Month 50</text>
</g>
<g class="lg" filter="url(#bg)">
<rect x="179.2" y="418.8" width="18.5" height="9.8" fill="#000000"/>
<text x="208.7" y="428.2" textLength="97.1" lengthAdjust="spacingAndGlyphs">1. Private Round</text>
<rect x="351.7" y="418.8" width="18.5" height="9.8" fill="#fbe07b"/>
<text x="381.7" y="428.2" textLength="94.6" lengthAdjust="spacingAndGlyphs">2. Public Round</text>
<rect x="521.7" y="418.8" width="18.5" height="9.8" fill="#5e5e5e"/>
<text x="552.0" y="428.2" textLength="68.8" lengthAdjust="spacingAndGlyphs">3. Reserves</text>
<rect x="666.7" y="418.8" width="18.5" height="9.8" fill="#c5c5c5"/>
<text x="697.0" y="428.2" textLength="81.0" lengthAdjust="spacingAndGlyphs">4. Ecosystem</text>
<rect x="251.3" y="464.4" width="18.5" height="9.8" fill="#e3a54b"/>
<text x="281.6" y="473.8" textLength="118.2" lengthAdjust="spacingAndGlyphs">5. Team + Advisors</text>
<rect x="445.0" y="464.4" width="18.5" height="9.8" fill="#ffffff"/>
<text x="475.0" y="473.8" textLength="90.0" lengthAdjust="spacingAndGlyphs">6. Uniswap LPs</text>
<rect x="610.3" y="464.4" width="18.5" height="9.8" fill="#7a7a7a"/>
<text x="640.3" y="473.8" textLength="64.5" lengthAdjust="spacingAndGlyphs">7. Liquidity</text>
</g>
</svg>
<div id="cap"><span style="left:320.9px">Lịch</span><span style="left:381.6px">mở</span><span style="left:432.0px">khoá</span><span style="left:502.1px">ENV</span><span style="left:569.3px">token</span></div>
</body></html>
